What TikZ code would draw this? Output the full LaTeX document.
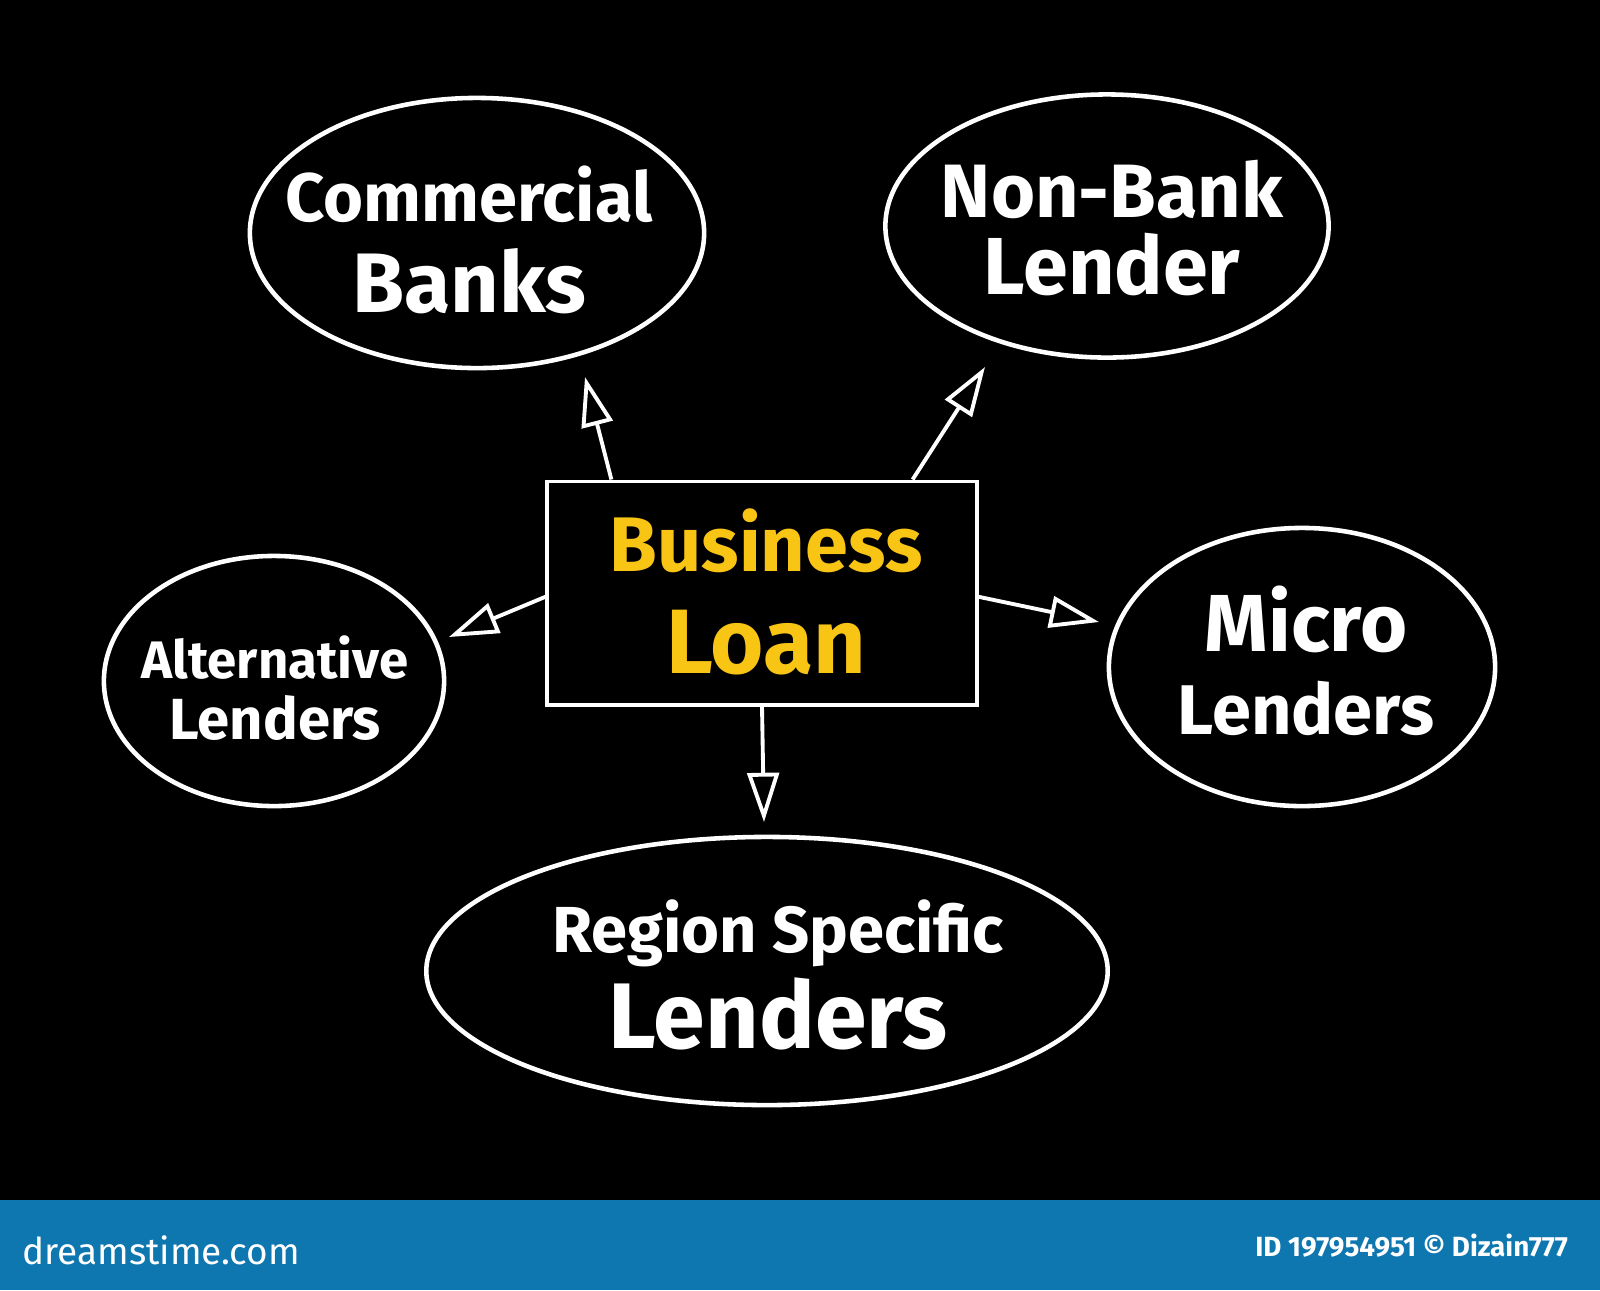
\documentclass[tikz,border=0pt]{standalone}
\usepackage{fontspec}
\setmainfont{Fira Sans}
\usetikzlibrary{shapes.geometric,arrows.meta}
\definecolor{loanyellow}{RGB}{249,197,20}
\definecolor{bannerblue}{RGB}{15,119,175}

\begin{document}
\begin{tikzpicture}
[x=0.01cm,y=-0.01cm,line width=1.3pt,white,
 lender/.style={ellipse,draw=white,inner sep=0pt},
 lendertext/.style={align=center,text=white,inner sep=0pt},
 link/.style={-{Triangle[open,length=14pt,width=9pt]},line width=1.1pt}]
\useasboundingbox (0,0) rectangle (1600,1290);
\fill[black] (0,0) rectangle (1600,1200);
\fill[bannerblue] (0,1200) rectangle (1600,1290);

% centre box
\node[draw=white,line width=1.1pt,minimum width=4.29cm,minimum height=2.23cm] (loan) at (762,593) {};
\node[lendertext,text=loanyellow,font=\bfseries\fontsize{22}{29}\selectfont] (loan text) at (766,592)
  {Business\\{\fontsize{26}{29}\selectfont Loan}};

% lenders
\node[lender,minimum width=4.54cm,minimum height=2.7cm] (banks) at (477,233) {};
\node[lendertext,font=\bfseries\fontsize{19.5}{26}\selectfont] (banks text) at (469,240)
  {Commercial\\{\fontsize{24}{26}\selectfont Banks}};

\node[lender,minimum width=4.43cm,minimum height=2.63cm] (nonbank) at (1107,226) {};
\node[lendertext,font=\bfseries\fontsize{21.5}{22}\selectfont] (nonbank text) at (1112,228)
  {Non-Bank\\{\fontsize{23}{22}\selectfont Lender}};

\node[lender,minimum width=3.4cm,minimum height=2.5cm] (alt) at (274,681) {};
\node[lendertext,font=\bfseries\fontsize{15}{17.4}\selectfont] (alt text) at (275,688)
  {Alternative\\{\fontsize{16.5}{17.4}\selectfont Lenders}};

\node[lender,minimum width=3.86cm,minimum height=2.78cm] (micro) at (1302,667) {};
\node[lendertext,font=\bfseries\fontsize{23}{23.6}\selectfont] (micro text) at (1306,661)
  {Micro\\{\fontsize{20}{23.6}\selectfont Lenders}};

\node[lender,minimum width=6.81cm,minimum height=2.68cm] (region) at (767,971) {};
\node[lendertext,font=\bfseries\fontsize{18.5}{27.3}\selectfont] (region text) at (778,975)
  {Region Specific\\{\fontsize{26.5}{27.3}\selectfont Lenders}};

% arrow tips
\coordinate (tipbanks) at (585,377);
\coordinate (tipnonbank) at (985,367);
\coordinate (tipalt) at (449,637);
\coordinate (tipmicro) at (1099,622);
\coordinate (tipregion) at (764,822);

\draw[link] (loan.143) -- (tipbanks);
\draw[link] (loan.37) -- (tipnonbank);
\draw[link] (loan.181) -- (tipalt);
\draw[link] (loan.-1) -- (tipmicro);
\draw[link] (loan.south) -- (tipregion);

% banner
\node[anchor=west,inner sep=0pt,text=white,font=\fontsize{10.5}{12}\selectfont] (site) at (20,1250) {dreamstime.com};
\node[anchor=east,inner sep=0pt,text=white,font=\bfseries\fontsize{7.9}{10}\selectfont] (credit) at (1570,1246) {ID 197954951 © Dizain777};
\end{tikzpicture}
\end{document}
